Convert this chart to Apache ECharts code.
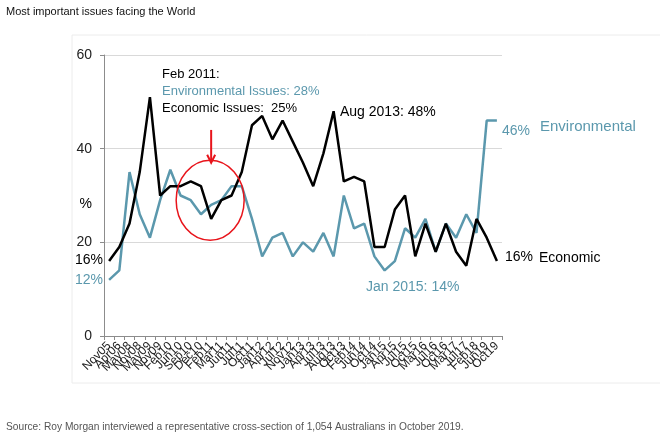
<!DOCTYPE html>
<html><head><meta charset="utf-8">
<script src="https://cdn.jsdelivr.net/npm/echarts@6/dist/echarts.min.js"></script>
<style>html,body{margin:0;padding:0;background:#fff}#c{width:660px;height:444px}</style>
</head><body><div id="c"></div>
<script>
const categories = ["Nov05","Apr06","May08","Nov08","May09","Nov09","Feb10","Jun10","Sep10","Dec10",
  "Feb11","Mar11","Jun11","Jul11","Oct11","Jan12","Apr12","Jul12","Nov12","Jan13",
  "Apr13","Jul13","Aug13","Oct13","Feb14","Jun14","Oct14","Jan15","Apr15","Jul15",
  "Oct15","Mar16","Jul16","Oct16","Mar17","Jul17","Feb18","Jun19","Oct19"];
const economic = [16,19,24,35,51,30,32,32,33,32,
  25,29,30,35,45,47,42,46,41.5,37,
  32,39,48,33,34,33,19,19,27,30,
  17,24,18,24,18,15,25,21,16];
const environmental = [12,14,35,26,21,29,35.5,30,29,26,
  28,29,32,32,25,17,21,22,17,20,
  18,22,17,30,23,24,17,14,16,23,
  21,25,18,24,21,26,22,46,46];
const yTicks = [0, 20, 40, 60];

const TEAL = '#5b98ad';
const FONT = 'Liberation Sans, Arial, sans-serif';
const chart = echarts.init(document.getElementById('c'));
chart.setOption({
  animation: false,
  backgroundColor: '#fff',
  grid: { left: 104, right: 158, top: 55, bottom: 108, containLabel: false },
  xAxis: {
    type: 'category', data: categories, boundaryGap: true,
    axisLine: { lineStyle: { color: '#8c8c8c', width: 1 } },
    axisTick: { show: true, length: 4, lineStyle: { color: '#8c8c8c' } },
    axisLabel: { interval: 0, rotate: 45, fontSize: 12, color: '#222', fontFamily: FONT, margin: 8 }
  },
  yAxis: {
    type: 'value', min: yTicks[0], max: yTicks[yTicks.length-1], interval: 20,
    axisLine: { show: true, lineStyle: { color: '#8c8c8c', width: 1 } },
    axisTick: { show: true, length: 4, lineStyle: { color: '#8c8c8c' } },
    axisLabel: { fontSize: 14, color: '#222', fontFamily: FONT, margin: 12 },
    splitLine: { lineStyle: { color: '#d9d9d9', width: 1 } }
  },
  series: [
    { name: 'Environmental', type: 'line', data: environmental, symbol: 'none',
      lineStyle: { color: TEAL, width: 2.5 }, itemStyle: { color: TEAL }, z: 2 },
    { name: 'Economic', type: 'line', data: economic, symbol: 'none',
      lineStyle: { color: '#000', width: 2.5 }, itemStyle: { color: '#000' }, z: 3 }
  ]
});

function txt(x, y, text, color, size, align) {
  return { type: 'text', x: x, y: y, z: 10,
    style: { text: text, fill: color, font: size + 'px ' + FONT, textAlign: align || 'left', textVerticalAlign: 'middle' } };
}
const fIdx = categories.indexOf('Feb11');
const c = chart.convertToPixel({ gridIndex: 0 }, [fIdx, 29]);
const arrowTop = chart.convertToPixel({ gridIndex: 0 }, [fIdx, 44]);
const arrowBot = chart.convertToPixel({ gridIndex: 0 }, [fIdx, 37]);
chart.setOption({
  graphic: [
    { type: 'rect', shape: { x: 72, y: 35, width: 600, height: 348 }, style: { fill: 'none', stroke: '#ececec', lineWidth: 1 }, z: 0, silent: true },
    { type: 'text', x: 6, y: 12, style: { text: 'Most important issues facing the World', fill: '#111', font: '11px ' + FONT, textVerticalAlign: 'middle' } },
    { type: 'text', x: 6, y: 427, style: { text: 'Source: Roy Morgan interviewed a representative cross-section of 1,054 Australians in October 2019.', fill: '#555', font: '10.2px ' + FONT, textVerticalAlign: 'middle' } },
    txt(162, 74, 'Feb 2011:', '#000', 13),
    txt(162, 91, 'Environmental Issues: 28%', TEAL, 13),
    txt(162, 108, 'Economic Issues:  25%', '#000', 13),
    txt(340, 112, 'Aug 2013: 48%', '#000', 14),
    txt(502, 131, '46%', TEAL, 14),
    txt(540, 127, 'Environmental', TEAL, 15),
    txt(505, 257, '16%', '#000', 14),
    txt(539, 258, 'Economic', '#000', 14),
    txt(366, 287, 'Jan 2015: 14%', TEAL, 14),
    txt(103, 260, '16%', '#000', 14, 'right'),
    txt(103, 280, '12%', TEAL, 14, 'right'),
    txt(92, 204, '%', '#000', 14, 'right'),
    { type: 'ellipse', shape: { cx: c[0] - 1, cy: c[1], rx: 34, ry: 40 }, style: { fill: 'none', stroke: '#e8141b', lineWidth: 1.5 }, z: 10 },
    { type: 'line', shape: { x1: arrowTop[0], y1: arrowTop[1], x2: arrowBot[0], y2: arrowBot[1] - 1 }, style: { stroke: '#e8141b', lineWidth: 2 }, z: 10 },
    { type: 'polyline', shape: { points: [[arrowBot[0] - 4, arrowBot[1] - 8], [arrowBot[0], arrowBot[1]], [arrowBot[0] + 4, arrowBot[1] - 8]] }, style: { fill: 'none', stroke: '#e8141b', lineWidth: 2 }, z: 10 }
  ]
});
</script></body></html>
